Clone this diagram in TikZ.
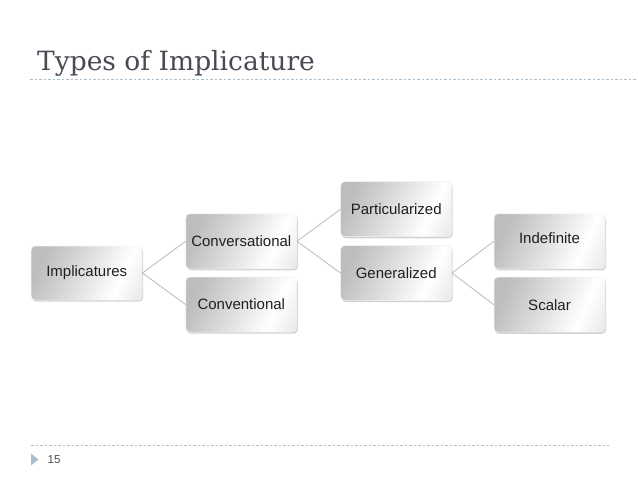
\documentclass[tikz,border=0pt]{standalone}
\usepackage{fontspec}
\setmainfont{Liberation Sans}
\newfontfamily\titlefont{DejaVu Serif}
\usetikzlibrary{
    shadows,
    calc
}
\definecolor{titlegray}{HTML}{4A4A55}
\definecolor{rulecolor}{HTML}{A9BFD0}
\definecolor{linkcolor}{HTML}{A3B7C6}
\definecolor{boxedge}{HTML}{BDBDBD}
\pgfdeclarehorizontalshading{metal}{100bp}{
    color(0bp)=(boxedge);
    color(25bp)=(boxedge);
    color(45bp)=(boxedge!55);
    color(68bp)=(white);
    color(100bp)=(boxedge!75)
}
\tikzset {
    item/.style = {
        rounded corners = 4pt,
        minimum width = 111pt,
        minimum height = 55pt,
        inner sep = 0pt,
        shading = metal,
        shading angle = -25,
        draw = white!80!boxedge,
        line width = 0.5pt,
        drop shadow = {opacity = 0.35, shadow xshift = 1pt, shadow yshift = -1.6pt},
        text = black!88,
        font = \fontsize{15}{18}\selectfont
    },
    link/.style = {draw = linkcolor, line width = 0.7pt},
    rule/.style = {draw = rulecolor, line width = 0.8pt, dash pattern = on 2.5pt off 2pt}
}

\begin{document}
\begin{tikzpicture}[x = 1pt, y = -1pt]
    \useasboundingbox [fill = white] (0, 0) rectangle (638, 479);
    % title and rules
    \node (title) [anchor = base west, inner sep = 0pt, text = titlegray,
        font = \titlefont\fontsize{26.5}{30}\selectfont] at (37, 70) {Types of Implicature};
    \coordinate (ta) at (30, 79);
    \coordinate (tb) at (638, 79);
    \draw [rule] (ta) -- (tb);
    \coordinate (ba) at (31, 445);
    \coordinate (bb) at (609, 445);
    \draw [rule] (ba) -- (bb);
    \fill [rulecolor] (31, 453.5) -- (38.5, 459.5) -- (31, 465.5) -- cycle;
    \node (page) [anchor = west, inner sep = 0pt, text = black!70,
        font = \fontsize{11.5}{13}\selectfont] at (47.5, 459.5) {15};
    % tree
    \node (implic) [item, minimum height = 54pt] at (86.7, 273) {Implicatures};
    \node (conv) [item] at (241.3, 241.3) {Conversational};
    \node (convtl) [item] at (241.3, 304.5) {Conventional};
    \node (part) [item] at (396.2, 209.2) {Particularized};
    \node (gen) [item] at (396.2, 273) {Generalized};
    \node (indef) [item] at (549.5, 241.3) {\raisebox{6pt}{Indefinite}};
    \node (scalar) [item] at (549.5, 304.7) {Scalar};
    \draw [link] (implic.east) -- (conv.west);
    \draw [link] (implic.east) -- (convtl.west);
    \draw [link] (conv.east) -- (part.west);
    \draw [link] (conv.east) -- (gen.west);
    \draw [link] (gen.east) -- (indef.west);
    \draw [link] (gen.east) -- (scalar.west);
\end{tikzpicture}
\end{document}
